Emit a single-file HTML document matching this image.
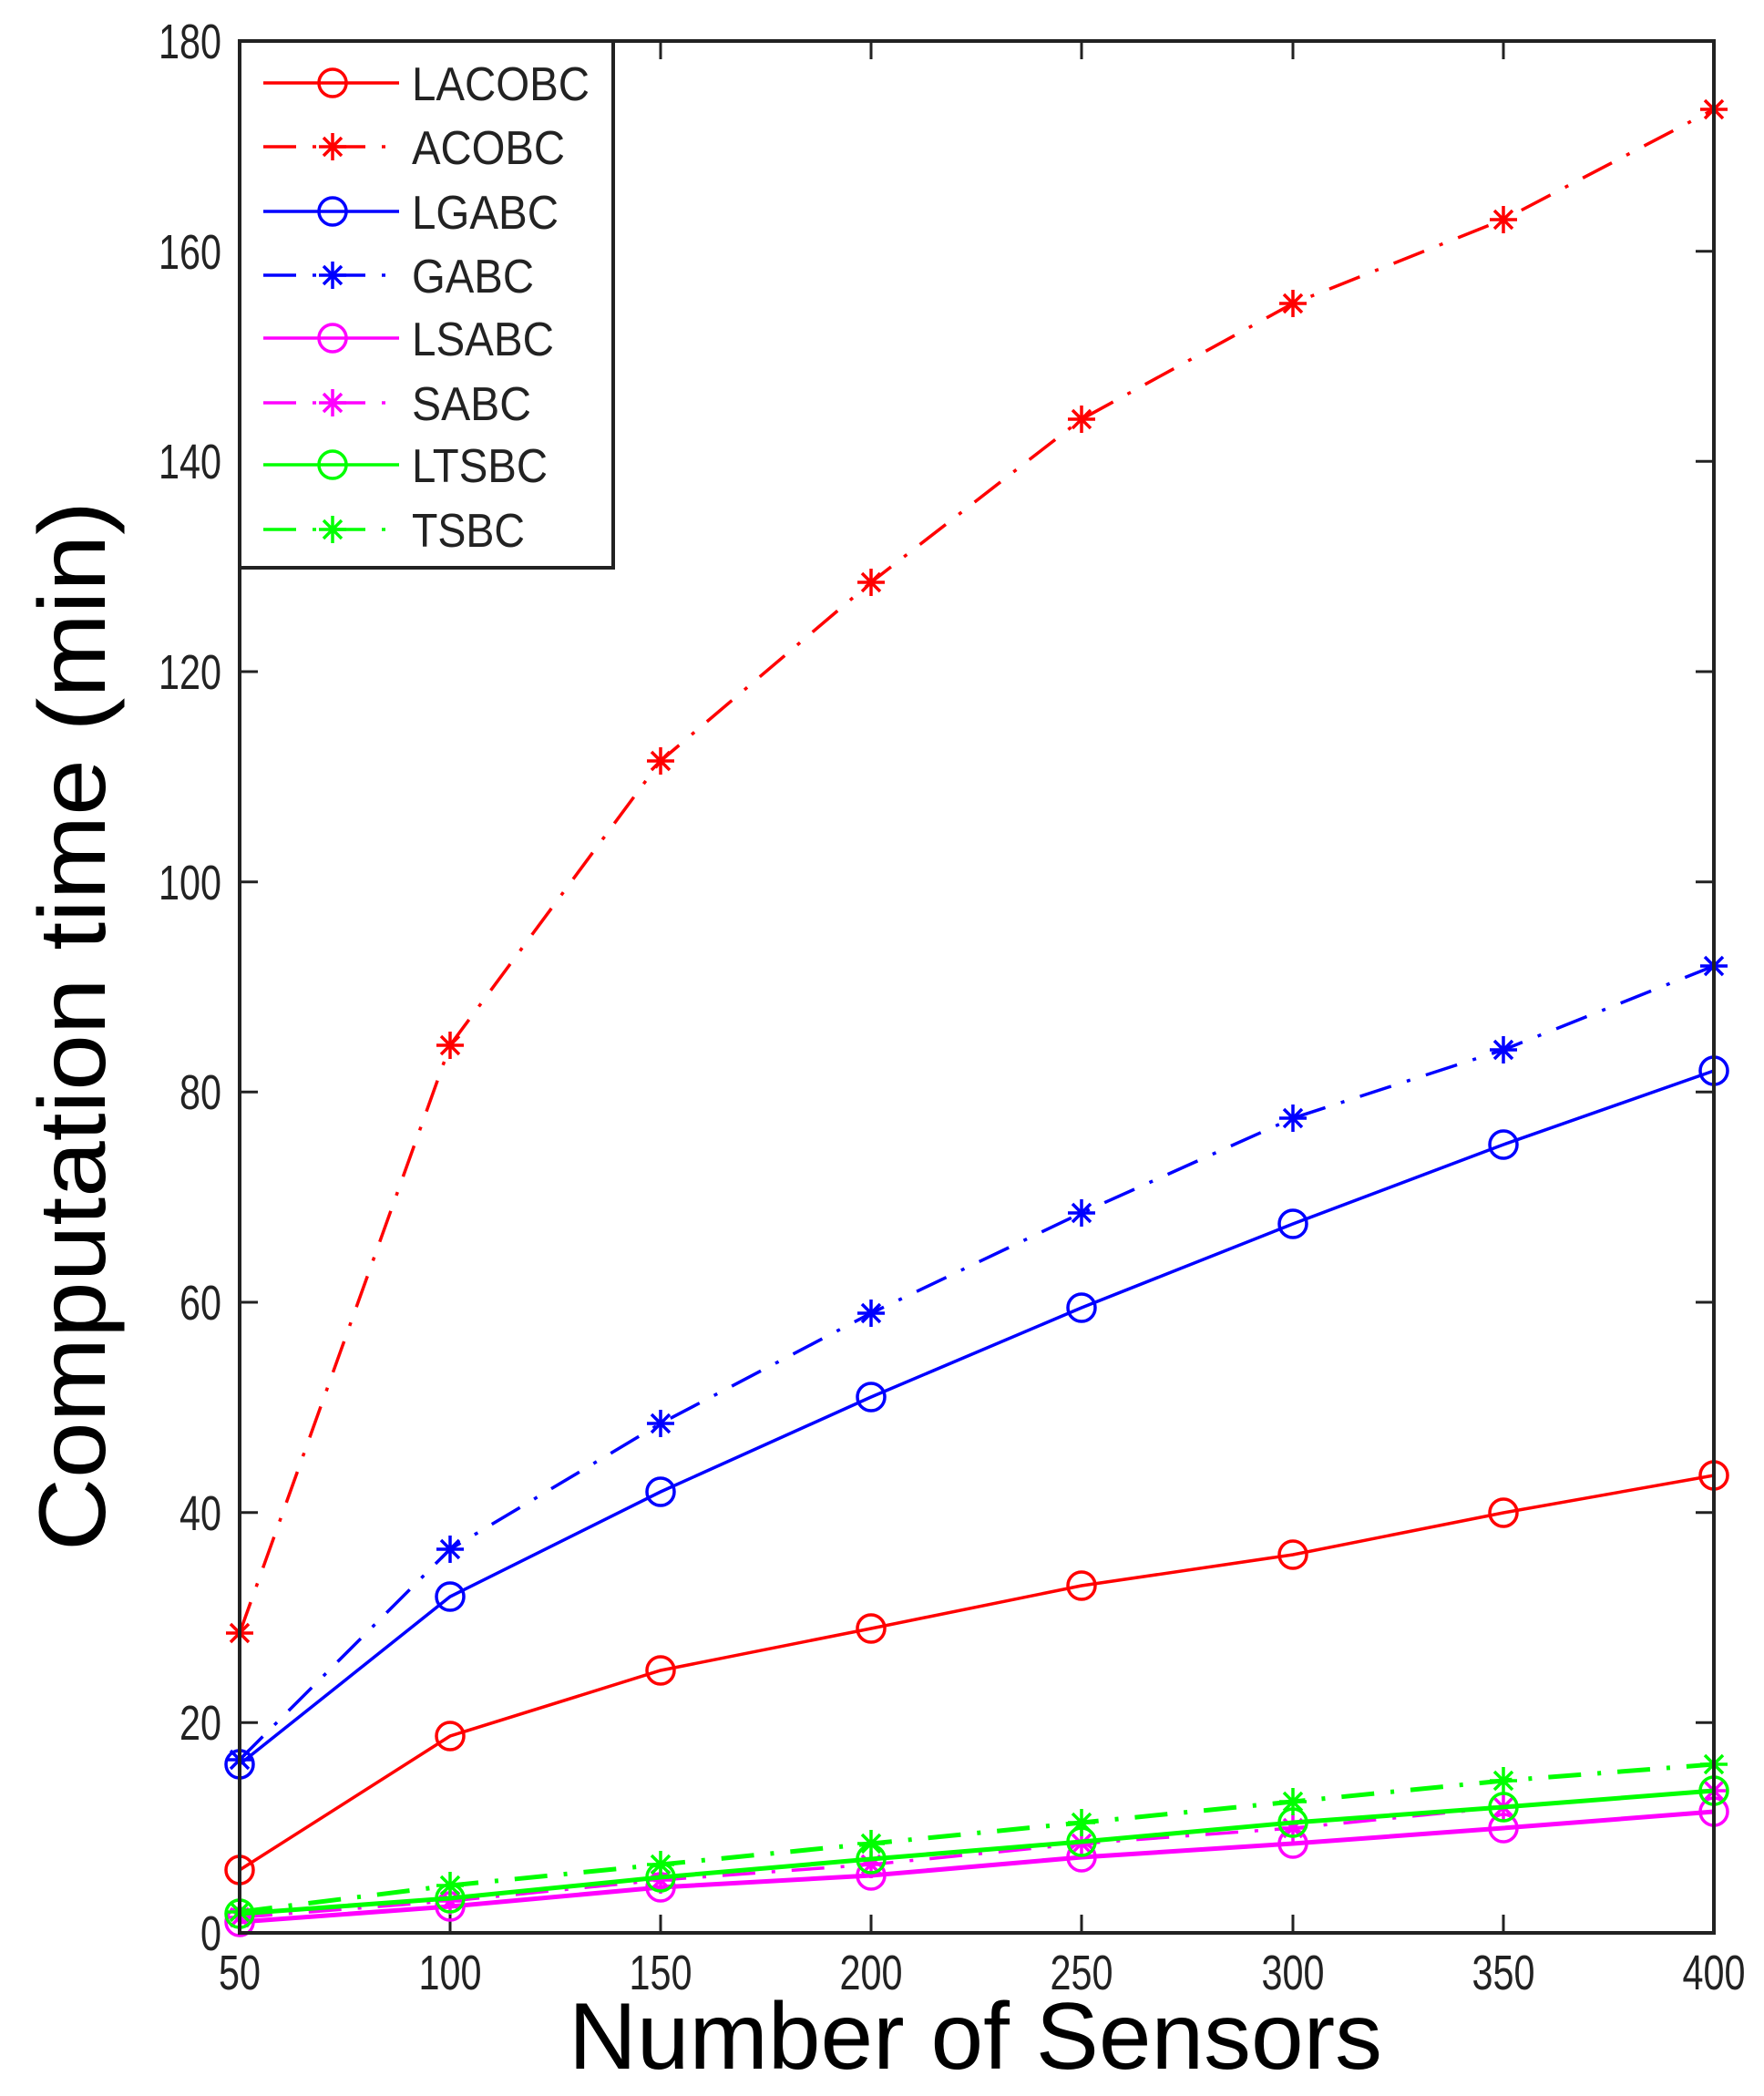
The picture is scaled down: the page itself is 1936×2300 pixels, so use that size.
<!DOCTYPE html>
<html><head><meta charset="utf-8"><style>html,body{margin:0;padding:0;background:#fff}svg{display:block}</style></head>
<body>
<svg width="1936" height="2300" viewBox="0 0 1936 2300" xmlns="http://www.w3.org/2000/svg" font-family="Liberation Sans, sans-serif">
<defs>
<g id="st"><path d="M-15 0H15M0-15V15M-10-10L10 10M-10 10L10-10" stroke-width="3.5"/></g>
</defs>
<rect width="1936" height="2300" fill="#fff"/>
<g stroke="#222" stroke-width="3">
<path d="M263 2121H283M263 1890.3H283M263 1659.7H283M263 1429H283M263 1198.3H283M263 967.7H283M263 737H283M263 506.3H283M263 275.7H283M263 45H283"/>
<path d="M1881 2121H1861M1881 1890.3H1861M1881 1659.7H1861M1881 1429H1861M1881 1198.3H1861M1881 967.7H1861M1881 737H1861M1881 506.3H1861M1881 275.7H1861"/>
<path d="M494 2121V2101M725 2121V2101M956 2121V2101M1187 2121V2101M1419 2121V2101M1650 2121V2101"/>
<path d="M725 45V65M956 45V65M1187 45V65M1419 45V65M1650 45V65"/>
</g>
<g font-size="54" fill="#222" text-anchor="end" lengthAdjust="spacingAndGlyphs">
<text x="243" y="2140" textLength="23" lengthAdjust="spacingAndGlyphs">0</text>
<text x="243" y="1909" textLength="46" lengthAdjust="spacingAndGlyphs">20</text>
<text x="243" y="1679" textLength="46" lengthAdjust="spacingAndGlyphs">40</text>
<text x="243" y="1448" textLength="46" lengthAdjust="spacingAndGlyphs">60</text>
<text x="243" y="1217" textLength="46" lengthAdjust="spacingAndGlyphs">80</text>
<text x="243" y="987" textLength="69" lengthAdjust="spacingAndGlyphs">100</text>
<text x="243" y="756" textLength="69" lengthAdjust="spacingAndGlyphs">120</text>
<text x="243" y="525" textLength="69" lengthAdjust="spacingAndGlyphs">140</text>
<text x="243" y="295" textLength="69" lengthAdjust="spacingAndGlyphs">160</text>
<text x="243" y="64" textLength="69" lengthAdjust="spacingAndGlyphs">180</text>
</g>
<g font-size="54" fill="#222" text-anchor="middle">
<text x="263" y="2183" textLength="46" lengthAdjust="spacingAndGlyphs">50</text>
<text x="494" y="2183" textLength="69" lengthAdjust="spacingAndGlyphs">100</text>
<text x="725" y="2183" textLength="69" lengthAdjust="spacingAndGlyphs">150</text>
<text x="956" y="2183" textLength="69" lengthAdjust="spacingAndGlyphs">200</text>
<text x="1187" y="2183" textLength="69" lengthAdjust="spacingAndGlyphs">250</text>
<text x="1419" y="2183" textLength="69" lengthAdjust="spacingAndGlyphs">300</text>
<text x="1650" y="2183" textLength="69" lengthAdjust="spacingAndGlyphs">350</text>
<text x="1881" y="2183" textLength="69" lengthAdjust="spacingAndGlyphs">400</text>
</g>
<text x="624" y="2270" font-size="104" textLength="893" lengthAdjust="spacingAndGlyphs" fill="#000">Number of Sensors</text>
<text transform="translate(115,1702) rotate(-90)" font-size="104" textLength="1152" lengthAdjust="spacingAndGlyphs" fill="#000">Computation  time (min)</text>

<g fill="none" stroke-width="3.5">
<polyline stroke="#f00" stroke-dasharray="36 18 4 18" points="263,1792 494,1147 725,835 956,639 1187,460 1419,333 1650,241 1881,120"/>
<g stroke="#f00"><use href="#st" x="263" y="1792"/><use href="#st" x="494" y="1147"/><use href="#st" x="725" y="835"/><use href="#st" x="956" y="639"/><use href="#st" x="1187" y="460"/><use href="#st" x="1419" y="333"/><use href="#st" x="1650" y="241"/><use href="#st" x="1881" y="120"/></g>
<polyline stroke="#00f" stroke-dasharray="36 18 4 18" points="263,1931 494,1700 725,1562 956,1441 1187,1331 1419,1227 1650,1152 1881,1060"/>
<g stroke="#00f"><use href="#st" x="263" y="1931"/><use href="#st" x="494" y="1700"/><use href="#st" x="725" y="1562"/><use href="#st" x="956" y="1441"/><use href="#st" x="1187" y="1331"/><use href="#st" x="1419" y="1227"/><use href="#st" x="1650" y="1152"/><use href="#st" x="1881" y="1060"/></g>
<polyline stroke="#00f" points="263,1936 494,1752 725,1637 956,1533 1187,1435 1419,1343 1650,1256 1881,1175"/>
<g stroke="#00f"><circle cx="263" cy="1936" r="15"/><circle cx="494" cy="1752" r="15"/><circle cx="725" cy="1637" r="15"/><circle cx="956" cy="1533" r="15"/><circle cx="1187" cy="1435" r="15"/><circle cx="1419" cy="1343" r="15"/><circle cx="1650" cy="1256" r="15"/><circle cx="1881" cy="1175" r="15"/></g>
<polyline stroke="#f00" points="263,2052 494,1905 725,1833 956,1787 1187,1740 1419,1706 1650,1660 1881,1619"/>
<g stroke="#f00"><circle cx="263" cy="2052" r="15"/><circle cx="494" cy="1905" r="15"/><circle cx="725" cy="1833" r="15"/><circle cx="956" cy="1787" r="15"/><circle cx="1187" cy="1740" r="15"/><circle cx="1419" cy="1706" r="15"/><circle cx="1650" cy="1660" r="15"/><circle cx="1881" cy="1619" r="15"/></g>
<polyline stroke="#f0f" stroke-width="5" points="263,2109 494,2092 725,2071 956,2058 1187,2038 1419,2023 1650,2006 1881,1988"/>
<g stroke="#f0f"><circle cx="263" cy="2109" r="15"/><circle cx="494" cy="2092" r="15"/><circle cx="725" cy="2071" r="15"/><circle cx="956" cy="2058" r="15"/><circle cx="1187" cy="2038" r="15"/><circle cx="1419" cy="2023" r="15"/><circle cx="1650" cy="2006" r="15"/><circle cx="1881" cy="1988" r="15"/></g>
<polyline stroke="#f0f" stroke-dasharray="36 18 4 18" points="263,2104 494,2086 725,2063 956,2046 1187,2023 1419,2006 1650,1983 1881,1965"/>
<g stroke="#f0f"><use href="#st" x="263" y="2104"/><use href="#st" x="494" y="2086"/><use href="#st" x="725" y="2063"/><use href="#st" x="956" y="2046"/><use href="#st" x="1187" y="2023"/><use href="#st" x="1419" y="2006"/><use href="#st" x="1650" y="1983"/><use href="#st" x="1881" y="1965"/></g>
<polyline stroke="#0f0" stroke-width="5" points="263,2100 494,2083 725,2060 956,2040 1187,2021 1419,2000 1650,1983 1881,1965"/>
<g stroke="#0f0"><circle cx="263" cy="2100" r="15"/><circle cx="494" cy="2083" r="15"/><circle cx="725" cy="2060" r="15"/><circle cx="956" cy="2040" r="15"/><circle cx="1187" cy="2021" r="15"/><circle cx="1419" cy="2000" r="15"/><circle cx="1650" cy="1983" r="15"/><circle cx="1881" cy="1965" r="15"/></g>
<polyline stroke="#0f0" stroke-width="5" stroke-dasharray="36 18 4 18" points="263,2098 494,2069 725,2046 956,2023 1187,2000 1419,1977 1650,1954 1881,1936"/>
<g stroke="#0f0"><use href="#st" x="263" y="2098"/><use href="#st" x="494" y="2069"/><use href="#st" x="725" y="2046"/><use href="#st" x="956" y="2023"/><use href="#st" x="1187" y="2000"/><use href="#st" x="1419" y="1977"/><use href="#st" x="1650" y="1954"/><use href="#st" x="1881" y="1936"/></g>
</g>

<rect x="263" y="45" width="1618" height="2076" fill="none" stroke="#222" stroke-width="4"/>

<rect x="263" y="45" width="410" height="578" fill="#fff" stroke="#222" stroke-width="4"/>
<g fill="none" stroke-width="3.5">
<path d="M289 91H438" stroke="#f00"/><circle cx="365" cy="91" r="15" stroke="#f00"/>
<path d="M289 161H438" stroke="#f00" stroke-dasharray="36 18 4 18"/><use href="#st" x="365" y="161" stroke="#f00"/>
<path d="M289 232H438" stroke="#00f"/><circle cx="365" cy="232" r="15" stroke="#00f"/>
<path d="M289 302H438" stroke="#00f" stroke-dasharray="36 18 4 18"/><use href="#st" x="365" y="302" stroke="#00f"/>
<path d="M289 371H438" stroke="#f0f"/><circle cx="365" cy="371" r="15" stroke="#f0f"/>
<path d="M289 442H438" stroke="#f0f" stroke-dasharray="36 18 4 18"/><use href="#st" x="365" y="442" stroke="#f0f"/>
<path d="M289 510H438" stroke="#0f0"/><circle cx="365" cy="510" r="15" stroke="#0f0"/>
<path d="M289 581H438" stroke="#0f0" stroke-dasharray="36 18 4 18"/><use href="#st" x="365" y="581" stroke="#0f0"/>
</g>
<g font-size="52" fill="#222">
<text x="452" y="110" textLength="195" lengthAdjust="spacingAndGlyphs">LACOBC</text>
<text x="452" y="180" textLength="168" lengthAdjust="spacingAndGlyphs">ACOBC</text>
<text x="452" y="251" textLength="161" lengthAdjust="spacingAndGlyphs">LGABC</text>
<text x="452" y="321" textLength="134" lengthAdjust="spacingAndGlyphs">GABC</text>
<text x="452" y="390" textLength="156" lengthAdjust="spacingAndGlyphs">LSABC</text>
<text x="452" y="461" textLength="131" lengthAdjust="spacingAndGlyphs">SABC</text>
<text x="452" y="529" textLength="149" lengthAdjust="spacingAndGlyphs">LTSBC</text>
<text x="452" y="600" textLength="124" lengthAdjust="spacingAndGlyphs">TSBC</text>
</g>
</svg>
</body></html>
